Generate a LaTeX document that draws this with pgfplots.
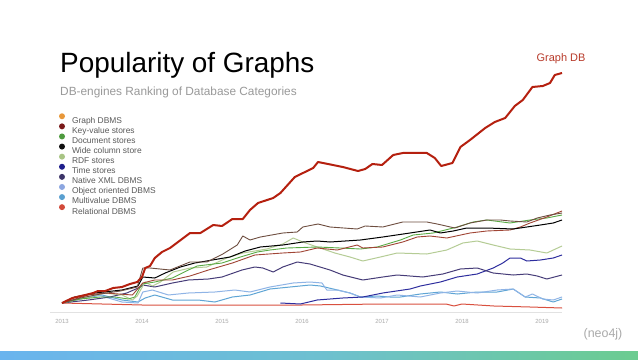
\documentclass[border=0pt]{standalone}
\usepackage{pgfplots}
\pgfplotsset{compat=1.18}
\usepackage{fontspec}
\setmainfont{Liberation Sans}
\definecolor{barL}{HTML}{6AB4EE}
\definecolor{barM}{HTML}{6DC0D0}
\definecolor{barR}{HTML}{6CCC90}
\definecolor{graphred}{HTML}{B5200F}
\definecolor{lblred}{HTML}{B83A2A}
\definecolor{cbrown}{HTML}{6E4E40}
\definecolor{credbrown}{HTML}{A04535}
\definecolor{cgreen}{HTML}{5AAA45}
\definecolor{colive}{HTML}{B5CC95}
\definecolor{cslate}{HTML}{463C78}
\definecolor{cblue}{HTML}{2D2D9E}
\definecolor{clav}{HTML}{8FB4E6}
\definecolor{csky}{HTML}{5FA5D5}
\definecolor{crel}{HTML}{D9503F}
\definecolor{d1}{HTML}{E8983A}
\definecolor{d2}{HTML}{7A1A1A}
\definecolor{d3}{HTML}{4E9A3E}
\definecolor{d4}{HTML}{111111}
\definecolor{d5}{HTML}{A8C484}
\definecolor{d6}{HTML}{1E1E8C}
\definecolor{d7}{HTML}{3C3468}
\definecolor{d8}{HTML}{8CA6E0}
\definecolor{d9}{HTML}{5AA0D0}
\definecolor{d10}{HTML}{D24A3A}
\definecolor{legtext}{HTML}{5A5A5A}
\definecolor{subgray}{HTML}{999999}
\definecolor{tickgray}{HTML}{AAAAAA}
\definecolor{axisgray}{HTML}{E2E2E2}
\pgfplotsset{dotleg/.style={legend image code/.code={\path[draw=none,fill=none] (0bp,-0.5bp) rectangle (13bp,0.5bp); \fill[##1,draw=none,overlay] (3bp,4.8bp) circle (3bp);}}}
\begin{document}
\begin{tikzpicture}[x=1bp,y=1bp]
\fill[white] (0,0) rectangle (638,359);
\shade[left color=barL, right color=barR, middle color=barM] (0,0) rectangle (638,8);
\node[anchor=base west, inner sep=0pt, font=\fontsize{28}{30}\selectfont] at (60,287) {Popularity of Graphs};
\node[anchor=base west, inner sep=0pt, font=\fontsize{11.9}{13}\selectfont, text=subgray] at (60,264) {DB-engines Ranking of Database Categories};
\node[anchor=center, inner sep=0pt, font=\fontsize{11}{12}\selectfont, text=lblred] at (561,300) {Graph DB};
\node[anchor=center, inner sep=0pt, font=\fontsize{12.5}{13}\selectfont, text=tickgray] at (603,25) {(neo4j)};
\begin{axis}[at={(50bp,47bp)}, anchor=south west, scale only axis,
  width=512bp, height=249bp,
  xmin=2012.85, xmax=2019.25, ymin=-9, ymax=240,
  clip=false,
  axis x line*=bottom, axis y line=none,
  x axis line style={-, draw=axisgray, line width=0.8bp},
  xtick={2013,2014,2015,2016,2017,2018,2019},
  xticklabels={2013,2014,2015,2016,2017,2018,2019},
  ytick=\empty,
  major tick length=0pt,
  xticklabel style={anchor=center, yshift=-9bp, font=\fontsize{6}{7}\selectfont, text=tickgray},
  legend style={at={(axis description cs:0.01758,0.7871)}, anchor=north west,
    draw=none, fill=none, inner sep=0pt, outer sep=0pt, row sep=0pt,
    /tikz/column sep=0pt,
    nodes={inner sep=0pt, text height=7.1bp, text depth=3bp, font=\fontsize{8.45}{10}\selectfont, text=legtext}},
  legend cell align=left,
  line join=round,
]
\addlegendimage{dotleg, d1}\addlegendentry{Graph DBMS}
\addlegendimage{dotleg, d2}\addlegendentry{Key-value stores}
\addlegendimage{dotleg, d3}\addlegendentry{Document stores}
\addlegendimage{dotleg, d4}\addlegendentry{Wide column store}
\addlegendimage{dotleg, d5}\addlegendentry{RDF stores}
\addlegendimage{dotleg, d6}\addlegendentry{Time stores}
\addlegendimage{dotleg, d7}\addlegendentry{Native XML DBMS}
\addlegendimage{dotleg, d8}\addlegendentry{Object oriented DBMS}
\addlegendimage{dotleg, d9}\addlegendentry{Multivalue DBMS}
\addlegendimage{dotleg, d10}\addlegendentry{Relational DBMS}

% Relational
\addplot[forget plot, crel, line width=1bp] coordinates {
(2013.00,0) (2013.5,-1) (2014.0,-2) (2015.0,-2) (2016.0,-2) (2017.0,-1) (2017.8,-1) (2017.9,-3) (2018.0,-1) (2018.4,-3) (2018.85,-4) (2019.25,-5)};
% light blue B
\addplot[forget plot, csky, line width=1bp] coordinates {
(2013.00,0) (2013.29,5) (2013.50,8) (2013.75,3) (2013.95,1) (2014.04,5) (2014.16,8) (2014.38,3) (2014.70,3) (2014.91,1) (2015.13,6) (2015.35,8) (2015.60,14) (2015.85,16) (2016.10,18) (2016.23,17) (2016.39,14) (2016.60,10) (2016.73,6) (2016.94,7) (2017.10,6) (2017.23,6) (2017.48,9) (2017.73,11) (2017.94,9) (2018.19,11) (2018.44,11) (2018.64,14) (2018.79,6) (2018.98,5) (2019.14,1) (2019.25,4)};
% light blue A
\addplot[forget plot, clav, line width=1bp] coordinates {
(2013.00,0) (2013.33,6) (2013.45,8) (2013.58,5) (2013.75,1) (2013.95,0) (2014.01,11) (2014.13,13) (2014.33,8) (2014.58,10) (2014.91,11) (2015.16,13) (2015.35,11) (2015.60,16) (2015.89,20) (2016.10,21) (2016.25,20) (2016.31,13) (2016.44,13) (2016.60,10) (2016.73,6) (2016.98,5) (2017.19,8) (2017.48,6) (2017.73,10) (2017.94,12) (2018.19,10) (2018.44,13) (2018.64,14) (2018.79,6) (2018.88,9) (2019.01,4) (2019.14,3) (2019.25,6)};
% blue
\addplot[forget plot, cblue, line width=1bp] coordinates {
(2015.73,0) (2015.98,-1) (2016.19,3) (2016.51,5) (2016.76,6) (2017.01,10) (2017.35,14) (2017.48,17) (2017.73,21) (2017.94,26) (2018.19,29) (2018.39,35) (2018.51,40) (2018.60,45) (2018.73,45) (2018.81,42) (2018.98,43) (2019.14,45) (2019.25,48)};
% slate
\addplot[forget plot, cslate, line width=1bp] coordinates {
(2013.00,0) (2013.33,3) (2013.60,6) (2013.81,10) (2013.98,16) (2014.01,18) (2014.16,16) (2014.38,20) (2014.58,23) (2014.83,24) (2015.00,26) (2015.25,33) (2015.41,36) (2015.51,35) (2015.64,31) (2015.76,36) (2015.94,41) (2016.10,39) (2016.35,33) (2016.51,28) (2016.76,23) (2017.01,26) (2017.19,28) (2017.51,26) (2017.76,29) (2017.98,34) (2018.19,35) (2018.39,30) (2018.64,28) (2018.81,29) (2018.94,27) (2019.06,24) (2019.25,28)};
% olive
\addplot[forget plot, colive, line width=1bp] coordinates {
(2013.00,0) (2013.33,6) (2013.54,10) (2013.75,8) (2013.88,3) (2013.94,7) (2014.04,21) (2014.13,17) (2014.23,21) (2014.39,31) (2014.60,35) (2014.81,36) (2015.06,45) (2015.26,50) (2015.56,54) (2015.76,59) (2015.89,65) (2016.01,61) (2016.19,56) (2016.41,50) (2016.60,46) (2016.76,42) (2016.98,46) (2017.19,50) (2017.56,49) (2017.81,53) (2018.01,60) (2018.19,62) (2018.39,58) (2018.60,54) (2018.85,53) (2019.06,50) (2019.25,57)};
% green
\addplot[forget plot, cgreen, line width=0.9bp] coordinates {
(2013.00,0) (2013.23,4) (2013.48,6) (2013.66,6) (2013.83,4) (2013.91,6) (2014.00,19) (2014.16,21) (2014.38,25) (2014.58,33) (2014.69,37) (2015.00,40) (2015.23,46) (2015.44,51) (2015.60,53) (2015.81,55) (2016.19,56) (2016.48,55) (2016.73,54) (2016.94,56) (2017.23,63) (2017.39,68) (2017.64,70) (2017.94,76) (2018.14,81) (2018.31,83) (2018.60,80) (2018.85,83) (2019.06,85) (2019.25,88)};
% reddish brown
\addplot[forget plot, credbrown, line width=0.9bp] coordinates {
(2013.00,0) (2013.33,8) (2013.54,10) (2013.88,8) (2014.01,20) (2014.16,23) (2014.38,23) (2014.60,27) (2014.83,33) (2015.13,40) (2015.41,48) (2015.76,50) (2015.98,51) (2016.19,55) (2016.44,53) (2016.69,58) (2016.76,55) (2017.01,56) (2017.26,61) (2017.44,66) (2017.60,67) (2017.81,65) (2018.10,70) (2018.31,72) (2018.60,73) (2018.73,76) (2018.85,80) (2019.06,86) (2019.25,92)};
% black
\addplot[forget plot, black, line width=1bp] coordinates {
(2013.00,0) (2013.16,6) (2013.41,10) (2013.75,13) (2013.95,17) (2014.01,26) (2014.16,25) (2014.29,30) (2014.48,36) (2014.66,40) (2014.88,43) (2015.10,46) (2015.29,52) (2015.48,56) (2015.76,58) (2016.01,61) (2016.19,62) (2016.35,61) (2016.73,63) (2017.01,66) (2017.35,70) (2017.60,73) (2017.73,70) (2017.89,72) (2018.06,75) (2018.31,75) (2018.64,74) (2018.81,76) (2018.98,78) (2019.14,80) (2019.25,83)};
% dark brown
\addplot[forget plot, cbrown, line width=0.9bp] coordinates {
(2013.00,0) (2013.23,5) (2013.48,9) (2013.73,12) (2013.94,16) (2014.01,35) (2014.10,35) (2014.35,33) (2014.60,41) (2014.81,41) (2015.01,49) (2015.19,58) (2015.26,67) (2015.35,63) (2015.48,66) (2015.76,70) (2015.94,71) (2016.01,76) (2016.20,79) (2016.35,76) (2016.69,74) (2016.79,77) (2017.01,76) (2017.26,81) (2017.56,81) (2017.69,79) (2017.91,75) (2018.10,80) (2018.31,83) (2018.48,83) (2018.60,82) (2018.81,81) (2018.94,85) (2019.10,88) (2019.25,90)};
% Graph DB
\addplot[forget plot, graphred, line width=2bp] coordinates {
(2013.00,0) (2013.13,5) (2013.29,8) (2013.39,10) (2013.45,12) (2013.54,12) (2013.64,15) (2013.75,16) (2013.85,19) (2013.94,21) (2014.00,26) (2014.04,35) (2014.10,37) (2014.16,45) (2014.25,51) (2014.35,55) (2014.45,61) (2014.60,70) (2014.73,70) (2014.79,73) (2014.89,78) (2015.00,77) (2015.13,84) (2015.26,84) (2015.35,93) (2015.45,100) (2015.64,105) (2015.73,110) (2015.91,126) (2016.14,135) (2016.20,141) (2016.51,136) (2016.70,132) (2016.79,134) (2016.88,139) (2017.00,138) (2017.14,148) (2017.26,150) (2017.56,150) (2017.66,145) (2017.74,137) (2017.88,140) (2017.98,156) (2018.10,163) (2018.29,175) (2018.41,181) (2018.54,185) (2018.66,197) (2018.76,203) (2018.88,216) (2019.01,217) (2019.10,220) (2019.16,228) (2019.25,230)};
\end{axis}
\end{tikzpicture}
\end{document}
